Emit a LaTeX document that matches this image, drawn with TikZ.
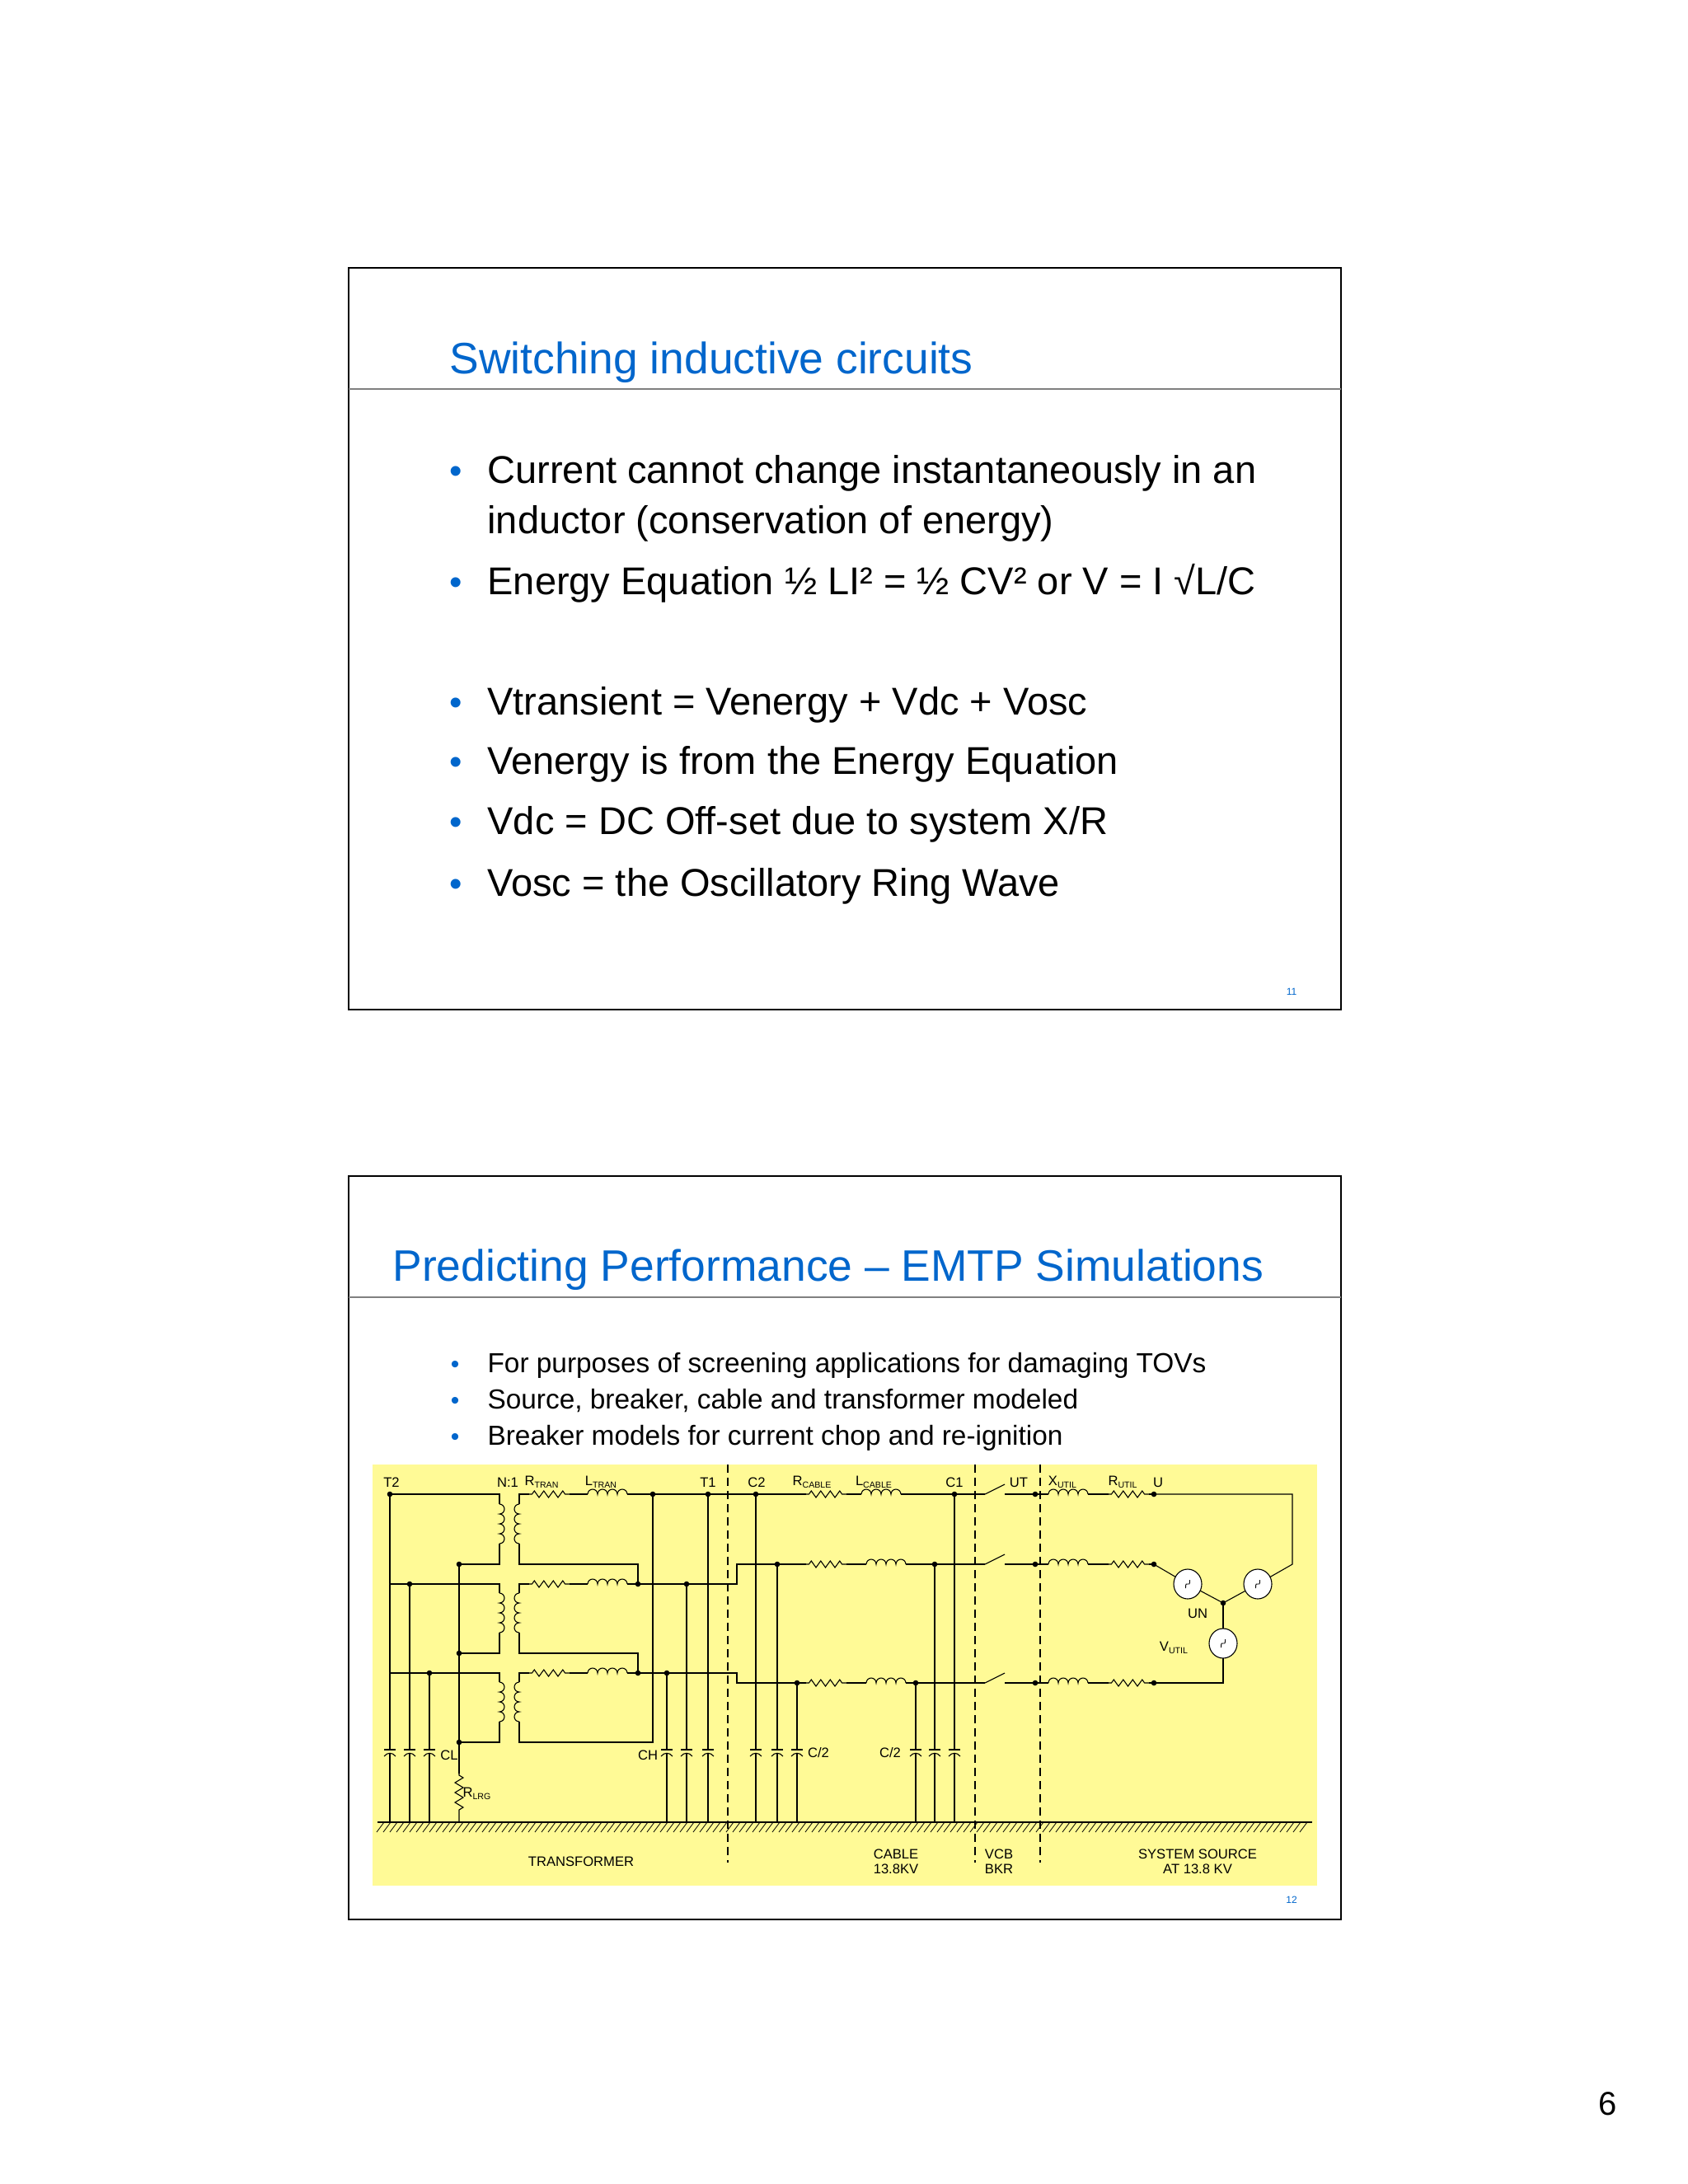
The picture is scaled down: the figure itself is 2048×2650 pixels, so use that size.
\documentclass[tikz,border=0pt]{standalone}
\usepackage{fontspec}
\setmainfont{Liberation Sans}
\definecolor{ttl}{RGB}{0,102,204}
\definecolor{yel}{RGB}{255,250,150}
\newcommand\sbs[1]{\raisebox{-1.6pt}{\fontsize{5.3}{6}\selectfont #1}}
\newcommand\jd[1]{\fill #1 circle[radius=3.3];}
\tikzset{
 res/.pic={\draw (0,0)--(3.4,0)--(6.3,-4)--(12,4)--(17.8,-4)--(23.5,4)--(29.3,-4)--(35,4)--(40.8,-4)--(43.6,0)--(49,0);},
 ind/.pic={\draw (0,0) arc[start angle=180,end angle=360,radius=6] arc[start angle=180,end angle=360,radius=6] arc[start angle=180,end angle=360,radius=6] arc[start angle=180,end angle=360,radius=6];},
 cprim/.pic={\draw (0,0) arc[start angle=-90,end angle=90,radius=6] arc[start angle=-90,end angle=90,radius=6] arc[start angle=-90,end angle=90,radius=6] arc[start angle=-90,end angle=90,radius=6];},
 csec/.pic={\draw (0,0) arc[start angle=-90,end angle=-270,radius=6] arc[start angle=-90,end angle=-270,radius=6] arc[start angle=-90,end angle=-270,radius=6] arc[start angle=-90,end angle=-270,radius=6];},
 lab/.style={font=\fontsize{8.3}{9}\selectfont,anchor=base,inner sep=0},
 bul/.style={anchor=base west,inner sep=0,font=\fontsize{23.5}{26}\selectfont},
 bul2/.style={anchor=base west,inner sep=0,font=\fontsize{16.7}{18}\selectfont},
 dot1/.style={anchor=base,inner sep=0,text=ttl,font=\fontsize{22}{26}\selectfont},
 dot2/.style={anchor=base,inner sep=0,text=ttl,font=\fontsize{15}{18}\selectfont},
}
\begin{document}
\begin{tikzpicture}[x=0.5pt,y=-0.5pt,line width=0.55pt]
\useasboundingbox (0,0) rectangle (2048,2650);
\fill[white] (0,0) rectangle (2048,2650);
% slide 1
\draw[line width=1.3pt] (423,325) rectangle (1627,1225);
\draw[gray,line width=0.6pt] (423,472) -- (1627,472);
\node[anchor=base west,inner sep=0,text=ttl,font=\fontsize{26.7}{30}\selectfont] (t1) at (545,453) {Switching inductive circuits};
\foreach \y/\t in {586/{Current cannot change instantaneously in an},721/{Energy Equation ½ LI² = ½ CV² or V = I √L/C},867/{Vtransient = Venergy + Vdc + Vosc},939/{Venergy is from the Energy Equation},1012/{Vdc = DC Off-set due to system X/R},1087/{Vosc = the Oscillatory Ring Wave}}{
 \node[dot1] at (553,\y) {•};
 \node[bul] at (591,\y) {\t};}
\node[bul] at (591,647) {inductor (conservation of energy)};
\node[anchor=base,inner sep=0,text=ttl,font=\fontsize{6}{7}\selectfont] at (1567,1207) {11};
% slide 2
\draw[line width=1.3pt] (423,1427) rectangle (1627,2329);
\draw[gray,line width=0.6pt] (423,1574) -- (1627,1574);
\node[anchor=base west,inner sep=0,text=ttl,font=\fontsize{26.7}{30}\selectfont] (t2) at (476,1554) {Predicting Performance – EMTP Simulations};
\foreach \y/\t in {1665/{For purposes of screening applications for damaging TOVs},1709/{Source, breaker, cable and transformer modeled},1753/{Breaker models for current chop and re-ignition}}{
 \node[dot2] at (552,\y) {•};
 \node[bul2] at (591,\y) {\t};}
\node[anchor=base,inner sep=0,text=ttl,font=\fontsize{6}{7}\selectfont] at (1567,2309) {12};
\node[anchor=base,inner sep=0,font=\fontsize{20}{24}\selectfont] at (1951,2566) {6};
% circuit background
\fill[yel] (452,1777) rectangle (1598,2288);
% ground
\draw (458,2211) -- (1592,2211);
\foreach \x in {466,474,...,1592} \draw[line width=0.4pt] (\x,2211) -- (\x-9,2223);
% dashed
\foreach \x in {883,1183,1262} \draw[dash pattern=on 5pt off 3pt] (\x,1777) -- (\x,2260);
% transformer primaries
\draw (473,1813) -- (606,1813) -- (606,1825); \pic at (606,1825) {cprim}; \draw (606,1873) -- (606,1898) -- (557,1898);
\draw (473,1922) -- (606,1922) -- (606,1933); \pic at (606,1933) {cprim}; \draw (606,1981) -- (606,2006) -- (557,2006);
\draw (473,2030) -- (606,2030) -- (606,2041); \pic at (606,2041) {cprim}; \draw (606,2089) -- (606,2114) -- (557,2114);
\draw (557,1898) -- (557,2152);
\draw (557,2152)--(557,2154)--(562,2157)--(552,2163)--(562,2169)--(552,2175)--(562,2181)--(552,2187)--(562,2193)--(557,2196)--(557,2211);
% secondaries
\draw (630,1825) -- (630,1813) -- (642,1813); \pic at (630,1825) {csec}; \draw (630,1873) -- (630,1898) -- (774,1898) -- (774,1922);
\draw (630,1933) -- (630,1922) -- (642,1922); \pic at (630,1933) {csec}; \draw (630,1981) -- (630,2006) -- (774,2006) -- (774,2030);
\draw (630,2041) -- (630,2030) -- (642,2030); \pic at (630,2041) {csec}; \draw (630,2089) -- (630,2114) -- (792,2114) -- (792,1813);
\foreach \y in {1813,1922,2030}{\pic at (642,\y) {res}; \draw (691,\y)--(713,\y); \pic at (713,\y) {ind}; \draw (761,\y)--(774,\y);}
% row1 line
\draw (774,1813) -- (978,1813); \pic at (978,1813) {res}; \draw (1027,1813)--(1045,1813); \pic at (1045,1813) {ind}; \draw (1093,1813) -- (1195,1813);
% row2
\draw (774,1922) -- (894,1922) -- (894,1898) -- (978,1898); \pic at (978,1898) {res}; \draw (1027,1898)--(1051,1898); \pic at (1051,1898) {ind}; \draw (1099,1898) -- (1195,1898);
% row3
\draw (774,2030) -- (894,2030) -- (894,2042) -- (978,2042); \pic at (978,2042) {res}; \draw (1027,2042)--(1051,2042); \pic at (1051,2042) {ind}; \draw (1099,2042) -- (1195,2042);
% shunt caps
\foreach \x/\y in {473/1813,497/1922,521/2030,809/2030,833/1922,859/1813,917/1813,943/1898,967/2042,1111/2042,1134/1898,1158/1813}{
 \draw (\x,\y) -- (\x,2123); \draw (\x,2128) -- (\x,2211);
 \draw (\x-7,2123) -- (\x+7,2123);
 \draw (\x-7,2131) .. controls (\x-3,2126) and (\x+3,2126) .. (\x+7,2131);}
\foreach \x/\y in {473/1813,497/1922,521/2030,557/1898,557/2006,557/2114,792/1813,774/1922,774/2030,833/1922,809/2030,859/1813,917/1813,943/1898,967/2042,1158/1813,1134/1898,1111/2042}{\jd{(\x,\y)}}
% switches and source side
\foreach \y in {1813,1898,2042}{
 \draw (1195,\y) -- (1219,\y-12);
 \draw (1219,\y) -- (1272,\y); \pic at (1272,\y) {ind}; \draw (1320,\y) -- (1345,\y); \pic at (1345,\y) {res}; \draw (1394,\y) -- (1400,\y);
 \jd{(1256,\y)} \jd{(1400,\y)}}
\draw (1400,1813) -- (1568,1813) -- (1568,1898) -- (1526,1922);
\draw (1400,1898) -- (1441,1922) -- (1484,1945) -- (1526,1922);
\draw (1484,1945) -- (1484,1994) -- (1484,2042) -- (1400,2042);
\jd{(1484,1945)}
\foreach \x/\y in {1441/1922,1526/1922,1484/1994}{
 \draw[fill=white] (\x,\y) ellipse[x radius=17,y radius=18];
 \draw[line width=0.45pt] (\x-2.5,\y+5) .. controls (\x-3,\y-7) and (\x+3,\y+7) .. (\x+2.5,\y-5);}
% labels
\node[lab] at (475,1804) {T2};
\node[lab] at (616,1804) {N:1};
\node[lab] at (657,1802) {R\sbs{TRAN}};
\node[lab] at (729,1802) {L\sbs{TRAN}};
\node[lab] at (859,1804) {T1};
\node[lab] at (918,1804) {C2};
\node[lab] at (985,1802) {R\sbs{CABLE}};
\node[lab] at (1060,1802) {L\sbs{CABLE}};
\node[lab] at (1158,1804) {C1};
\node[lab] at (1236,1804) {UT};
\node[lab] at (1289,1802) {X\sbs{UTIL}};
\node[lab] at (1362,1802) {R\sbs{UTIL}};
\node[lab] at (1405,1804) {U};
\node[lab] at (1453,1963) {UN};
\node[lab] at (1424,2003) {V\sbs{UTIL}};
\node[lab] at (545,2135) {CL};
\node[lab] at (786,2135) {CH};
\node[lab] at (993,2132) {C/2};
\node[lab] at (1080,2132) {C/2};
\node[lab,anchor=base west] at (561,2180) {R\sbs{LRG}};
\node[lab] at (705,2264) {TRANSFORMER};
\node[lab,align=center,anchor=north] at (1087,2243) {CABLE\\13.8KV};
\node[lab,align=center,anchor=north] at (1212,2243) {VCB\\BKR};
\node[lab,align=center,anchor=north] at (1453,2243) {SYSTEM SOURCE\\AT 13.8 KV};
\end{tikzpicture}
\end{document}
